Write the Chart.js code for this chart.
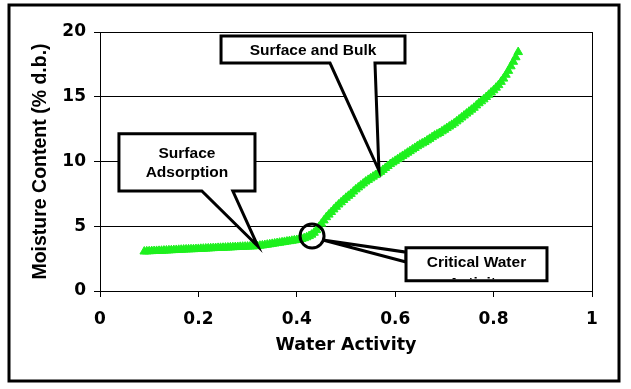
<!DOCTYPE html>
<html><head><meta charset="utf-8">
<script src="https://cdn.jsdelivr.net/npm/chart.js@4.4.0/dist/chart.umd.min.js"></script>
<style>html,body{margin:0;padding:0;background:#fff;}#wrap{width:631px;height:389px;}</style>
</head><body><div id="wrap"><canvas id="c" width="631" height="389"></canvas></div>
<script>
const waterActivity = [
0.090,0.095,0.100,0.105,0.110,0.115,0.120,0.125,0.130,0.135,
0.140,0.145,0.150,0.155,0.160,0.165,0.170,0.175,0.180,0.185,
0.190,0.195,0.200,0.205,0.210,0.215,0.220,0.225,0.230,0.235,
0.240,0.245,0.250,0.255,0.260,0.265,0.270,0.275,0.280,0.285,
0.290,0.295,0.300,0.305,0.310,0.315,0.320,0.325,0.330,0.335,
0.340,0.345,0.350,0.355,0.360,0.365,0.370,0.375,0.380,0.385,
0.390,0.395,0.400,0.405,0.410,0.415,0.420,0.425,0.430,0.435,
0.440,0.445,0.450,0.455,0.460,0.465,0.470,0.475,0.480,0.485,
0.490,0.495,0.500,0.505,0.510,0.515,0.520,0.525,0.530,0.535,
0.540,0.545,0.550,0.555,0.560,0.565,0.570,0.575,0.580,0.585,
0.590,0.595,0.600,0.605,0.610,0.615,0.620,0.625,0.630,0.635,
0.640,0.645,0.650,0.655,0.660,0.665,0.670,0.675,0.680,0.685,
0.690,0.695,0.700,0.705,0.710,0.715,0.720,0.725,0.730,0.735,
0.740,0.745,0.750,0.755,0.760,0.765,0.770,0.775,0.780,0.785,
0.790,0.795,0.800,0.805,0.810,0.815,0.820,0.825,0.830,0.835,
0.840,0.845,0.850];
const moistureContent = [
3.05,3.06,3.07,3.08,3.09,3.095,3.10,3.11,3.12,3.13,
3.14,3.15,3.16,3.17,3.18,3.19,3.20,3.21,3.22,3.225,
3.23,3.24,3.25,3.26,3.27,3.28,3.29,3.30,3.31,3.32,
3.33,3.335,3.34,3.35,3.36,3.37,3.38,3.39,3.40,3.41,
3.42,3.425,3.43,3.44,3.45,3.46,3.47,3.50,3.52,3.55,
3.58,3.61,3.64,3.67,3.70,3.73,3.76,3.79,3.82,3.85,
3.88,3.91,3.94,3.98,4.02,4.08,4.15,4.24,4.35,4.50,
4.70,4.95,5.20,5.45,5.70,5.90,6.10,6.30,6.50,6.68,
6.85,7.03,7.20,7.35,7.50,7.68,7.85,8.00,8.15,8.30,
8.45,8.58,8.70,8.83,8.95,9.08,9.20,9.35,9.50,9.65,
9.80,9.93,10.05,10.18,10.30,10.43,10.55,10.68,10.80,10.93,
11.05,11.18,11.30,11.40,11.50,11.63,11.75,11.88,12.00,12.10,
12.20,12.33,12.45,12.58,12.70,12.83,12.95,13.10,13.25,13.40,
13.55,13.70,13.85,14.00,14.15,14.33,14.50,14.65,14.80,14.98,
15.15,15.33,15.50,15.70,15.90,16.15,16.40,16.70,17.00,17.35,
17.70,18.05,18.45];
const xTickLabels = ['0','0.2','0.4','0.6','0.8','1'];
const yTickLabels = ['0','5','10','15','20'];
const xTitle = 'Water Activity';
const yTitle = 'Moisture Content (% d.b.)';
const calloutLabels = {
  adsorption: ['Surface','Adsorption'],
  bulk: ['Surface and Bulk'],
  critical: ['Critical Water','Activity']
};

const green = 'rgb(30,240,30)';
const pts = waterActivity.map((v,i)=>({x:v,y:moistureContent[i]}));

const annot = {
  adsorption:{l:0.0385,r:0.315,t:12.15,b:7.72,b1:0.207,b2:0.270,tx:0.321,ty:3.45},
  bulk:{l:0.2460,r:0.6199,t:19.7,b:17.6,b1:0.4675,b2:0.5589,tx:0.567,ty:9.30},
  critical:{l:0.622,r:0.9085,t:3.34,b:0.795},
  circle:{x:0.431,y:4.25,rpx:12},
  link:{sx:0.453,sy:3.94,e1:3.00,e2:2.24}
};

const plugin = {
  id:'callouts',
  afterDatasetsDraw(chart){
    const {ctx, scales:{x,y}} = chart;
    const X=v=>x.getPixelForValue(v), Y=v=>y.getPixelForValue(v);
    ctx.save();
    ctx.lineWidth=3; ctx.strokeStyle='#000'; ctx.fillStyle='#fff';
    ctx.lineJoin='miter'; ctx.miterLimit=6;
    const c=annot.circle;
    ctx.beginPath(); ctx.arc(X(c.x),Y(c.y),c.rpx,0,Math.PI*2); ctx.stroke();
    const k=annot.link, cr=annot.critical;
    ctx.beginPath(); ctx.moveTo(X(k.sx),Y(k.sy)); ctx.lineTo(X(cr.l),Y(k.e1)); ctx.lineTo(X(cr.l),Y(k.e2)); ctx.closePath();
    ctx.fill(); ctx.stroke();
    function callout(a){
      ctx.beginPath();
      ctx.moveTo(X(a.l),Y(a.t)); ctx.lineTo(X(a.r),Y(a.t)); ctx.lineTo(X(a.r),Y(a.b));
      ctx.lineTo(X(a.b2),Y(a.b)); ctx.lineTo(X(a.tx),Y(a.ty)); ctx.lineTo(X(a.b1),Y(a.b));
      ctx.lineTo(X(a.l),Y(a.b)); ctx.closePath(); ctx.fill(); ctx.stroke();
    }
    callout(annot.adsorption); callout(annot.bulk);
    ctx.beginPath(); ctx.rect(X(cr.l),Y(cr.t),X(cr.r)-X(cr.l),Y(cr.b)-Y(cr.t)); ctx.fill(); ctx.stroke();
    ctx.fillStyle='#000'; ctx.font='bold 15.5px "Liberation Sans", Arial, sans-serif';
    ctx.textAlign='center'; ctx.textBaseline='middle';
    const a=annot.adsorption;
    const ax=(X(a.l)+X(a.r))/2, amid=(Y(a.t)+Y(a.b))/2;
    ctx.fillText(calloutLabels.adsorption[0],ax,amid-9);
    ctx.fillText(calloutLabels.adsorption[1],ax,amid+10);
    const b=annot.bulk;
    ctx.fillText(calloutLabels.bulk[0],(X(b.l)+X(b.r))/2,(Y(b.t)+Y(b.b))/2+1);
    const cx=(X(cr.l)+X(cr.r))/2, ctop=Y(cr.t);
    ctx.fillText(calloutLabels.critical[0],cx,ctop+15);
    ctx.save();
    ctx.beginPath(); ctx.rect(X(cr.l)+1.5,ctop+1.5,X(cr.r)-X(cr.l)-3,Y(cr.b)-ctop-3); ctx.clip();
    ctx.fillText(calloutLabels.critical[1],cx,ctop+36);
    ctx.restore();
    ctx.restore();
  },
  afterDraw(chart){
    const {ctx, chartArea:ca} = chart;
    ctx.save();
    ctx.strokeStyle='#000'; ctx.lineWidth=1;
    ctx.beginPath(); ctx.moveTo(Math.round(ca.right)+0.5,ca.top); ctx.lineTo(Math.round(ca.right)+0.5,ca.bottom+6); ctx.stroke();
    ctx.lineWidth=3;
    ctx.strokeRect(9,5,610,376);
    ctx.restore();
  }
};

new Chart(document.getElementById('c'),{
  type:'scatter',
  data:{datasets:[{
    data:pts, showLine:false, pointStyle:'triangle', pointRadius:5, pointHoverRadius:5,
    backgroundColor:green, borderColor:green, borderWidth:1
  }]},
  options:{
    responsive:false, animation:false, events:[],
    layout:{padding:{left:0,top:32,right:39,bottom:0}},
    plugins:{legend:{display:false},tooltip:{enabled:false}},
    scales:{
      x:{type:'linear',min:0,max:1,
        ticks:{stepSize:0.2,color:'#000',padding:12,maxRotation:0,
          font:{family:'"DejaVu Sans"',weight:'bold',size:17},
          callback:(v,i)=>xTickLabels[i]},
        grid:{drawOnChartArea:false,drawTicks:true,tickLength:6,color:'#000'},
        border:{color:'#000',width:1},
        title:{display:true,text:xTitle,color:'#000',padding:{top:0,bottom:33},
          font:{family:'"DejaVu Sans"',weight:'bold',size:17.5}},
        afterFit:s=>{s.height=98;}
      },
      y:{type:'linear',min:0,max:20,
        ticks:{stepSize:5,color:'#000',padding:8,
          font:{family:'"DejaVu Sans"',weight:'bold',size:17},
          callback:(v,i)=>yTickLabels[i]},
        grid:{color:'#000',lineWidth:1,tickLength:6},
        border:{color:'#000',width:1},
        title:{display:true,text:yTitle,color:'#000',padding:{top:29,bottom:0},
          font:{family:'"Liberation Sans"',weight:'bold',size:19.5}},
        afterFit:s=>{s.width=100;}
      }
    }
  },
  plugins:[plugin]
});
</script></body></html>
